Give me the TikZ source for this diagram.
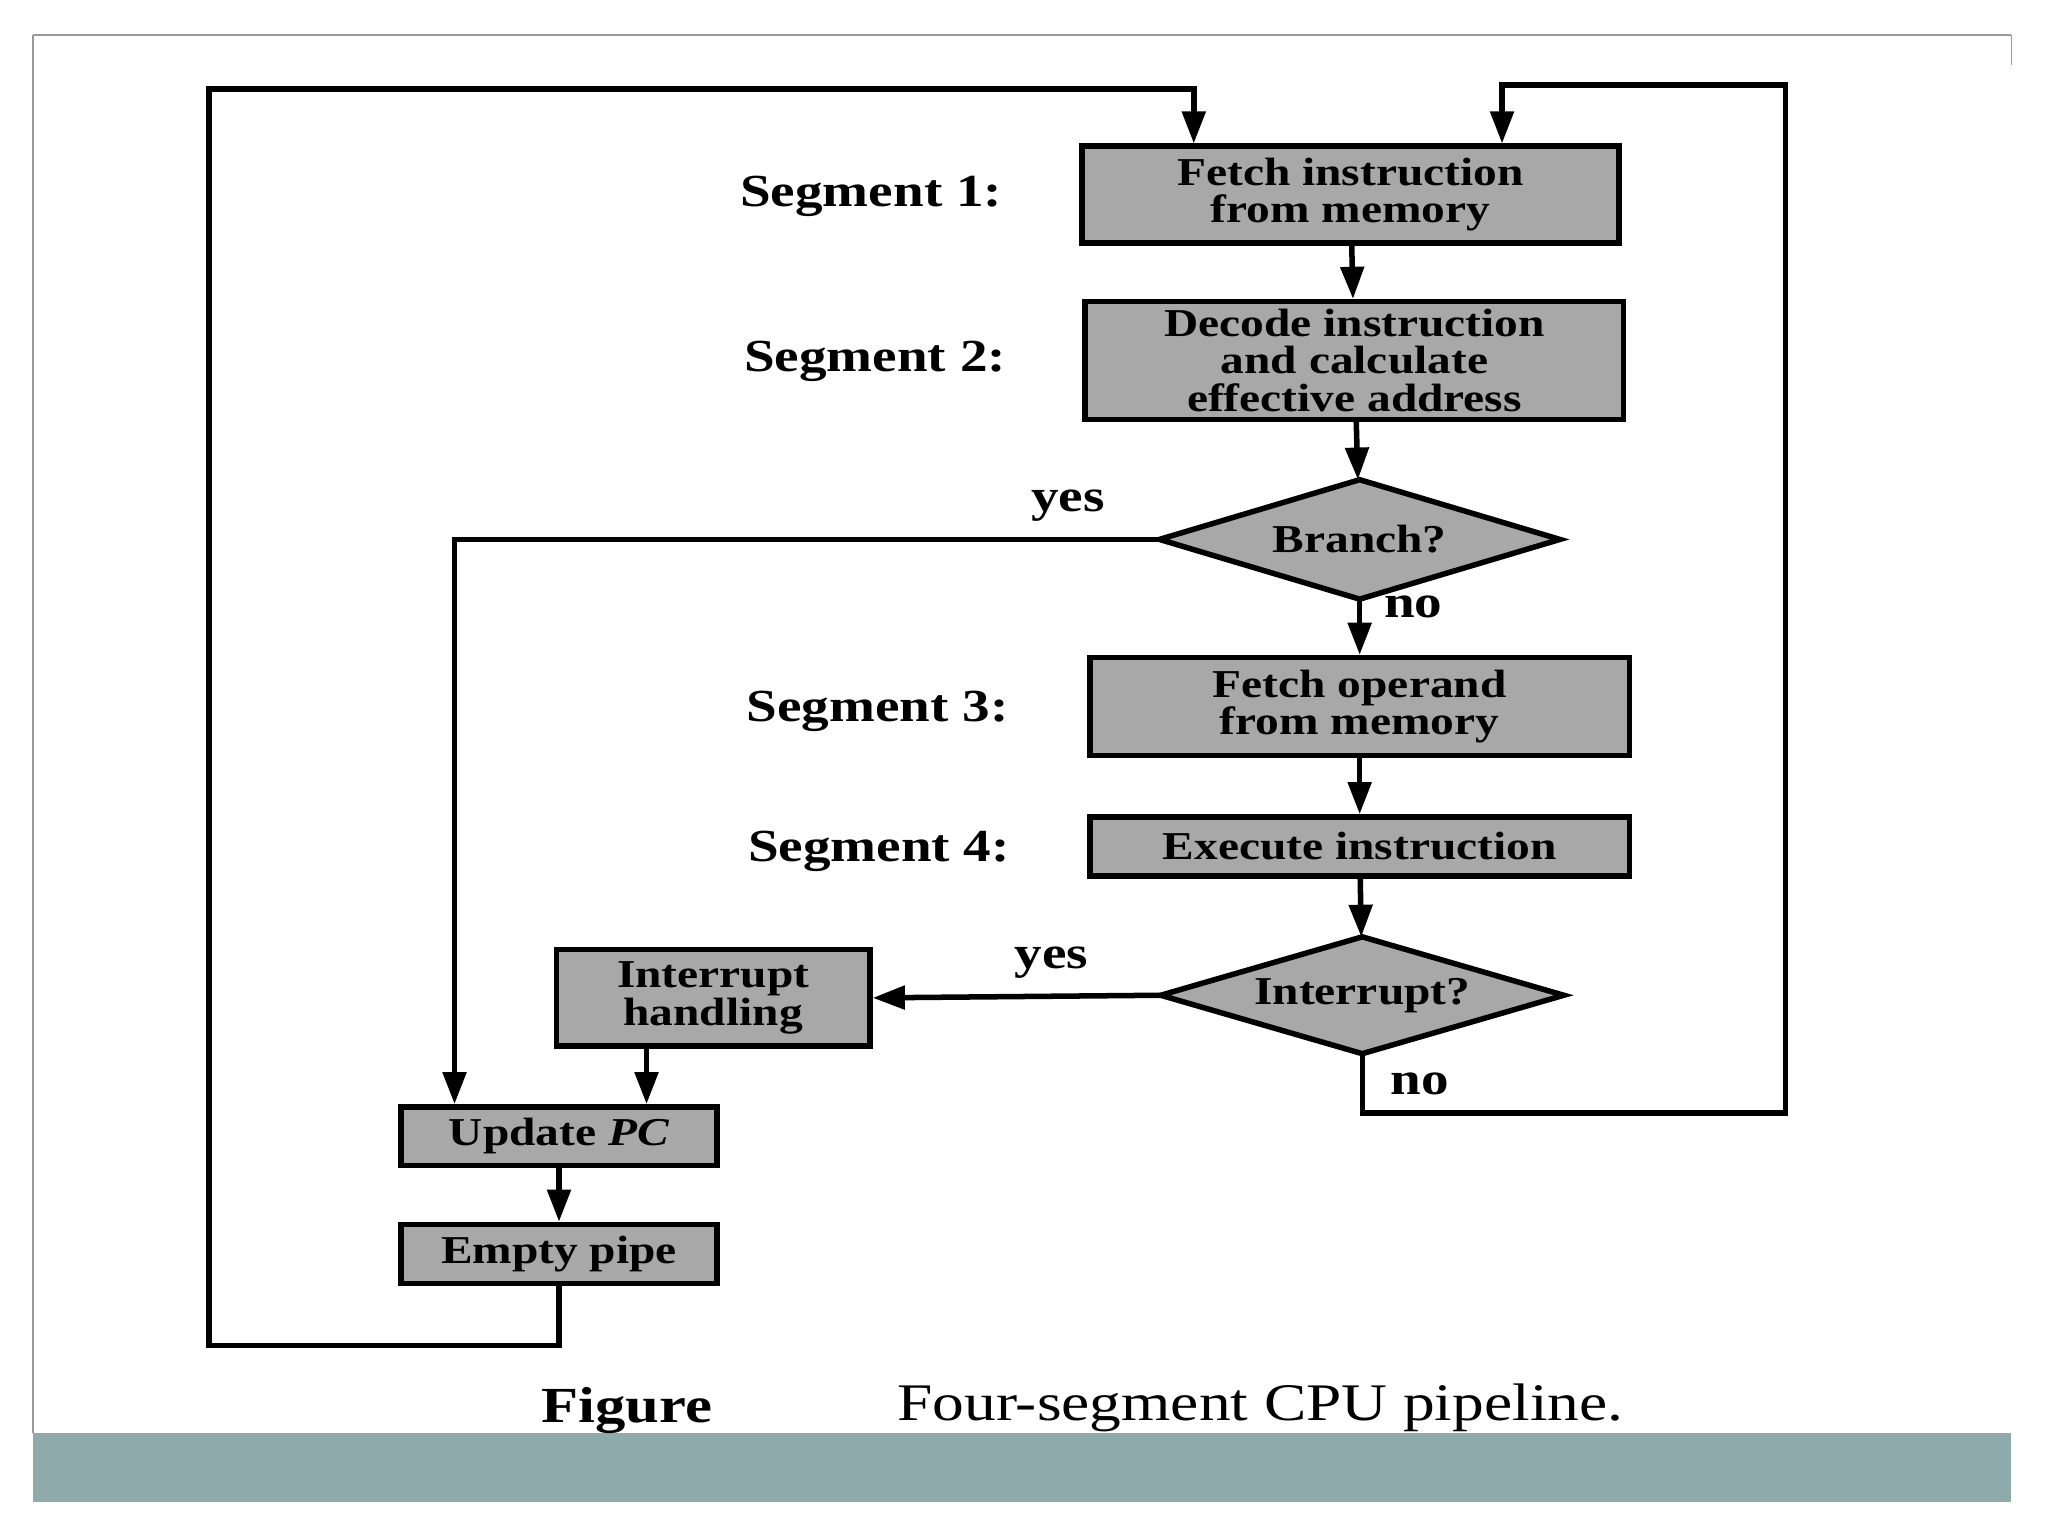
\documentclass[tikz,border=0pt]{standalone}
\usepackage{fontspec}
\setmainfont{Liberation Serif}[FakeStretch=1.2]
\usetikzlibrary{arrows.meta}
\definecolor{boxgray}{RGB}{168,168,168}
\definecolor{band}{RGB}{143,170,170}
\begin{document}
\begin{tikzpicture}[x=0.01cm,y=-0.01cm,
  box/.style={draw,line width=1.2pt,fill=boxgray,inner sep=0pt,font=\fontsize{8.6}{8.2}\selectfont\bfseries,align=center},
  dia/.style={inner sep=0pt,font=\fontsize{8.6}{8}\selectfont\bfseries},
  lab/.style={font=\fontsize{10}{12}\selectfont\bfseries},
  ar/.style={line width=1.2pt,-{Triangle[length=7pt,width=5pt]}}]
\useasboundingbox (0,0) rectangle (1568,1176);
\fill[white] (0,0) rectangle (1568,1176);
\draw[black!40] (25,27) -- (1540,27) (25,27) -- (25,1097) (1540,27)--(1540,50);
\fill[band] (25,1097) rectangle (1540,1150);
\node[box,minimum width=4.11cm,minimum height=0.74cm] (f1) at (1034,149) {Fetch instruction\\from memory};
\node[box,minimum width=4.12cm,minimum height=0.9cm] (f2) at (1037,276) {Decode instruction\\and calculate\\effective address};
\node[dia,minimum width=3.05cm,minimum height=0.9cm] (br) at (1041,413) {Branch?};
\draw[line width=1.2pt,fill=boxgray] (br.north) -- (br.east) -- (br.south) -- (br.west) -- cycle;
\node[dia] at (br) {Branch?};
\node[box,minimum width=4.13cm,minimum height=0.75cm] (f3) at (1041,541) {Fetch operand\\from memory};
\node[box,minimum width=4.13cm,minimum height=0.45cm] (f4) at (1041,648) {Execute instruction};
\node[dia,minimum width=3.07cm,minimum height=0.88cm] (ir) at (1043,762) {Interrupt?};
\draw[line width=1.2pt,fill=boxgray] (ir.north) -- (ir.east) -- (ir.south) -- (ir.west) -- cycle;
\node[dia] at (ir) {Interrupt?};
\node[box,minimum width=2.4cm,minimum height=0.74cm] (ih) at (546,764) {Interrupt\\handling};
\node[box,minimum width=2.42cm,minimum height=0.45cm] (pc) at (428,870) {Update \textit{PC}};
\node[box,minimum width=2.42cm,minimum height=0.45cm] (ep) at (428,960) {Empty pipe};
\node[lab] (s1) at (667,150) {Segment 1:};
\node[lab] (s2) at (670,277) {Segment 2:};
\node[lab] (s3) at (672,545) {Segment 3:};
\node[lab] (s4) at (673,652) {Segment 4:};
\draw[ar] (f1) -- (f2);
\draw[ar] (f2) -- (br);
\draw[ar] (br) -- (f3);
\draw[ar] (f3) -- (f4);
\draw[ar] (f4) -- (ir);
\draw[ar] (ir.west) -- (ih.east) node[pos=0.38,above,lab]{yes};
\draw[ar] (ih.south -| 495,0) -- (pc.north -| 495,0);
\draw[ar] (pc) -- (ep);
\draw[ar] (br.west) -- (348,413) node[pos=0.13,above,lab]{yes} -- (pc.north -| 348,0);
\node[lab] at (1082,465) {no};
\node[lab] at (1087,830) {no};
\coordinate (c1) at (428,1030); \coordinate (c2) at (160,1030);
\coordinate (c4) at (914,68);
\draw[ar] (ep.south) -- (c1) -- (c2) -- (160,68) -- (c4) -- (f1.north -| c4);
\coordinate (d1) at (1043,852); \coordinate (d2) at (1367,852);
\coordinate (d3) at (1367,65); \coordinate (d4) at (1150,65);
\draw[ar] (ir.south) -- (d1) -- (d2) -- (d3) -- (d4) -- (f1.north -| d4);
\node[font=\fontsize{11}{12}\selectfont\bfseries] at (480,1080) {Figure};
\node[font=\fontsize{11.5}{12}\selectfont] at (965,1078) {Four-segment CPU pipeline.};
\end{tikzpicture}
\end{document}
